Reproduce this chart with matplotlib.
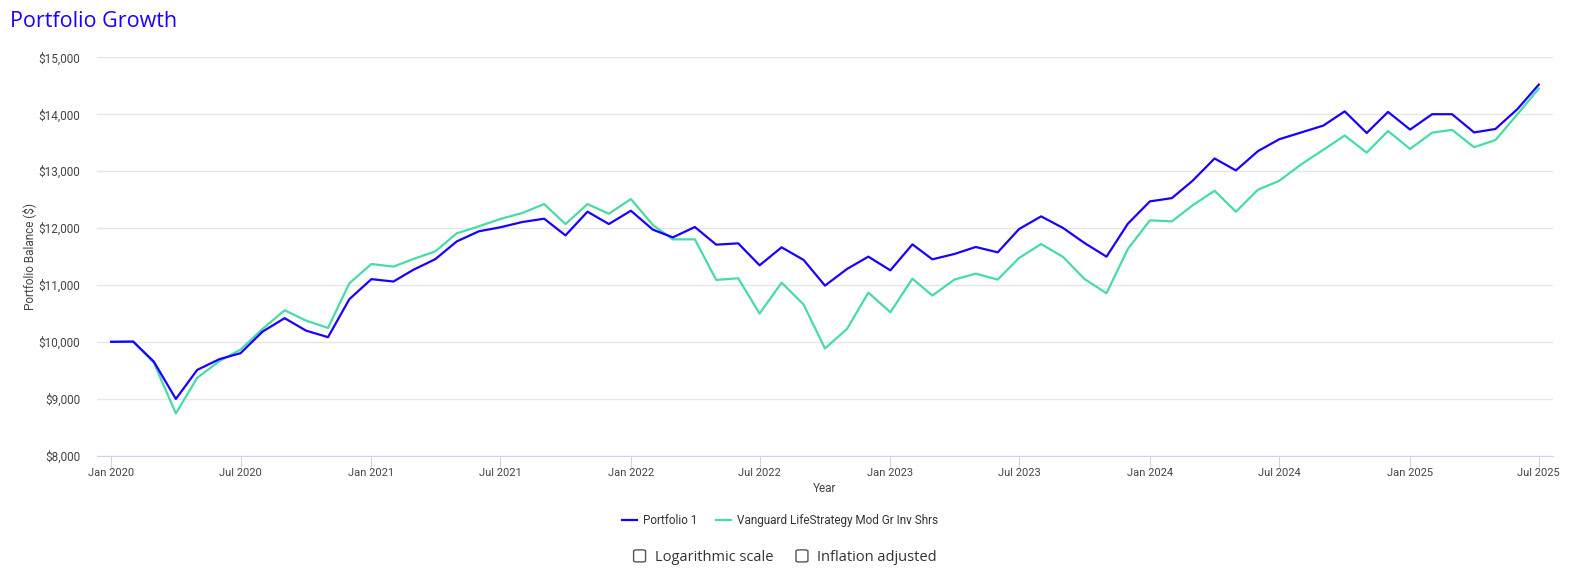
import pandas as pd
import numpy as np
import matplotlib
matplotlib.use("Agg")
import matplotlib.pyplot as plt
import matplotlib.dates as mdates
from matplotlib.ticker import FuncFormatter
from matplotlib.patches import FancyBboxPatch

# monthly balances, Jan 2020 .. Jul 2025
dates = pd.date_range("2020-01-01", "2025-07-01", freq="MS")

portfolio_1 = [
    10000, 10005, 9653, 8997, 9507, 9695, 9801, 10181, 10416, 10198, 10082, 10750,
    11102, 11060, 11266, 11454, 11764, 11942, 12012, 12105, 12164, 11871, 12287, 12070,
    12304, 11971, 11836, 12018, 11708, 11731, 11345, 11661, 11439, 10988, 11281, 11497,
    11257, 11713, 11450, 11544, 11667, 11573, 11982, 12205, 12000, 11737, 11497, 12076,
    12468, 12526, 12830, 13222, 13012, 13351, 13560, 13680, 13800, 14050, 13670, 14040,
    13730, 14000, 14000, 13680, 13740, 14090, 14520,
]
vanguard = [
    10005, 10005, 9632, 8743, 9368, 9660, 9865, 10228, 10556, 10374, 10245, 11029,
    11368, 11322, 11456, 11590, 11906, 12029, 12158, 12263, 12421, 12070, 12421, 12251,
    12509, 12053, 11801, 11801, 11088, 11117, 10497, 11041, 10655, 9883, 10228, 10865,
    10520, 11111, 10813, 11094, 11199, 11094, 11474, 11719, 11491, 11105, 10854, 11632,
    12135, 12117, 12398, 12655, 12287, 12673, 12830, 13120, 13375, 13625, 13325, 13705,
    13390, 13675, 13725, 13420, 13545, 14000, 14450,
]
series_names = ["Portfolio 1", "Vanguard LifeStrategy Mod Gr Inv Shrs"]
series_colors = ["#1c00ff", "#48dba8"]
yticks = [8000, 9000, 10000, 11000, 12000, 13000, 14000, 15000]

plt.rcParams["font.family"] = ["Roboto", "DejaVu Sans"]

fig = plt.figure(figsize=(15.92, 5.74), dpi=100)
ax = fig.add_axes([0.0609, 0.2061, 0.9146, 0.6941])

ax.plot(dates, portfolio_1, color=series_colors[0], lw=1.6, label=series_names[0], zorder=3)
ax.plot(dates, vanguard, color=series_colors[1], lw=1.6, label=series_names[1], zorder=2)

ax.set_ylim(8000, 15000)
ax.set_xlim(dates[0] - pd.Timedelta(days=20), dates[-1] + pd.Timedelta(days=20))
ax.set_yticks(yticks)
ax.yaxis.set_major_formatter(FuncFormatter(lambda v, p: f"${v:,.0f}"))
ax.xaxis.set_major_locator(mdates.MonthLocator(bymonth=[1, 7]))
ax.xaxis.set_major_formatter(mdates.DateFormatter("%b %Y"))

ax.grid(axis="y", color="#e6e6e6", lw=1)
ax.set_axisbelow(True)
for s in ["top", "right", "left"]:
    ax.spines[s].set_visible(False)
ax.spines["bottom"].set_color("#ccd6eb")
ax.tick_params(axis="y", length=0, pad=12, labelsize=8.5, labelcolor="#444444")
ax.tick_params(axis="x", length=8, color="#ccd6eb", pad=1, labelsize=8, labelcolor="#444444")

ax.set_ylabel("Portfolio Balance ($)", fontsize=8.5, color="#444444", labelpad=2)
ax.set_xlabel("Year", fontsize=8.5, color="#444444", labelpad=3)

fig.text(0.0063, 0.962, "Portfolio Growth", color="#1c00ff", fontsize=15.5,
         family=["Open Sans", "DejaVu Sans"], va="center", ha="left")

leg = fig.legend(loc="center", bbox_to_anchor=(0.49, 0.093), ncol=2, frameon=False,
                 fontsize=8.5, handlelength=1.3, columnspacing=1.6, handletextpad=0.5)
for t in leg.get_texts():
    t.set_color("#333333")

# checkboxes under the legend
for x0, label in [(0.398, "Logarithmic scale"), (0.5, "Inflation adjusted")]:
    box = FancyBboxPatch((x0, 0.021), 0.0075, 0.021, boxstyle="round,pad=0,rounding_size=0.002",
                         transform=fig.transFigure, fc="white", ec="#555555", lw=1)
    fig.patches.append(box)
    fig.text(x0 + 0.0135, 0.029, label, fontsize=10.5, color="#333333",
             family=["Open Sans", "DejaVu Sans"], va="center", ha="left")

fig.savefig("out.png", dpi=100)
